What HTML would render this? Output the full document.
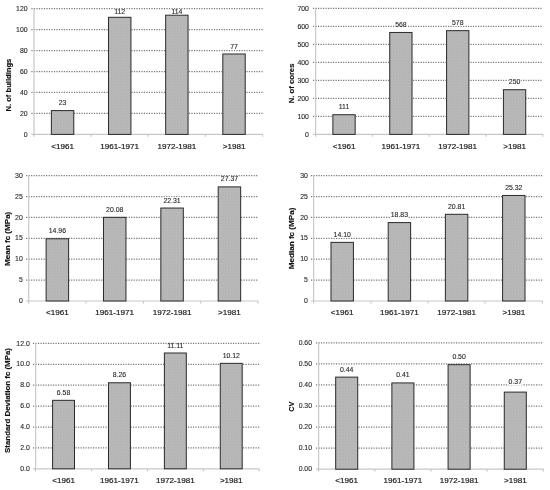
<!DOCTYPE html>
<html lang="en">
<head>
<meta charset="utf-8">
<title>Concrete strength statistics by construction period</title>
<style>
html,body{margin:0;padding:0;background:#fff;}
body{width:550px;height:490px;overflow:hidden;}
svg{display:block;}
text{font-family:"Liberation Sans", sans-serif;fill:#262626;stroke:#333;stroke-width:0.12px;}
.tk{font-size:6.9px;text-anchor:end;}
.ct{font-size:8.1px;text-anchor:middle;fill:#1c1c1c;stroke:#1c1c1c;stroke-width:0.2px;}
.vl{font-size:6.9px;text-anchor:middle;}
.tt{font-size:7.3px;font-weight:bold;text-anchor:middle;fill:#111;stroke:#111;stroke-width:0.15px;}
.g{stroke:#787878;stroke-width:1.25;stroke-dasharray:1.2 1.3;fill:none;}
.ax{stroke:#c8c8c8;stroke-width:1.2;fill:none;}
.b{fill:url(#hatch);stroke:#2a2a2a;stroke-width:1;}
</style>
</head>
<body>
<svg width="550" height="490" viewBox="0 0 550 490">
<defs>
<pattern id="hatch" width="1.5" height="1.5" patternUnits="userSpaceOnUse">
<rect width="1.5" height="1.5" fill="#b9b9b9"/>
<rect width="0.5" height="0.5" fill="#a4a4a4"/>
</pattern>
</defs>
<rect width="550" height="490" fill="#ffffff"/>

<g>
<line class="g" x1="31.40" y1="113.43" x2="262.60" y2="113.43"/>
<line class="g" x1="31.40" y1="92.47" x2="262.60" y2="92.47"/>
<line class="g" x1="31.40" y1="71.50" x2="262.60" y2="71.50"/>
<line class="g" x1="31.40" y1="50.53" x2="262.60" y2="50.53"/>
<line class="g" x1="31.40" y1="29.57" x2="262.60" y2="29.57"/>
<line class="g" x1="31.40" y1="8.60" x2="262.60" y2="8.60"/>
<path class="ax" d="M34.00 8.60V136.80"/>
<path class="ax" d="M31.40 134.40H262.60M91.15 134.40v2.4M148.30 134.40v2.4M205.45 134.40v2.4M262.60 134.40v2.4"/>
<rect class="b" x="51.37" y="110.59" width="22.40" height="23.81"/>
<rect fill="#fff" x="58.54" y="99.44" width="8.07" height="6.60"/>
<text class="vl" x="62.58" y="105.14">23</text>
<text class="ct" x="62.58" y="148.50">&lt;1961</text>
<rect class="b" x="108.52" y="17.29" width="22.40" height="117.11"/>
<rect fill="#fff" x="113.77" y="9.40" width="11.91" height="5.30"/>
<text class="vl" x="119.73" y="13.80">112</text>
<text class="ct" x="119.73" y="148.50">1961-1971</text>
<rect class="b" x="165.67" y="15.19" width="22.40" height="119.21"/>
<rect fill="#fff" x="170.92" y="9.40" width="11.91" height="4.79"/>
<text class="vl" x="176.88" y="13.80">114</text>
<text class="ct" x="176.88" y="148.50">1972-1981</text>
<rect class="b" x="222.82" y="53.98" width="22.40" height="80.42"/>
<rect fill="#fff" x="229.99" y="42.83" width="8.07" height="6.60"/>
<text class="vl" x="234.03" y="48.53">77</text>
<text class="ct" x="234.03" y="148.50">&gt;1981</text>
<text class="tk" x="27.55" y="136.55">0</text>
<text class="tk" x="27.55" y="115.58">20</text>
<text class="tk" x="27.55" y="94.62">40</text>
<text class="tk" x="27.55" y="73.65">60</text>
<text class="tk" x="27.55" y="52.68">80</text>
<text class="tk" x="27.55" y="31.72">100</text>
<text class="tk" x="27.55" y="10.75">120</text>
<text class="tt" transform="translate(11.40 85.10) rotate(-90)" x="0" y="0" textLength="52.9" lengthAdjust="spacingAndGlyphs">N. of buildings</text>
</g>
<g>
<line class="g" x1="313.00" y1="116.40" x2="543.00" y2="116.40"/>
<line class="g" x1="313.00" y1="98.40" x2="543.00" y2="98.40"/>
<line class="g" x1="313.00" y1="80.40" x2="543.00" y2="80.40"/>
<line class="g" x1="313.00" y1="62.40" x2="543.00" y2="62.40"/>
<line class="g" x1="313.00" y1="44.40" x2="543.00" y2="44.40"/>
<line class="g" x1="313.00" y1="26.40" x2="543.00" y2="26.40"/>
<line class="g" x1="313.00" y1="8.40" x2="543.00" y2="8.40"/>
<path class="ax" d="M315.60 8.40V136.80"/>
<path class="ax" d="M313.00 134.40H543.00M372.45 134.40v2.4M429.30 134.40v2.4M486.15 134.40v2.4M543.00 134.40v2.4"/>
<rect class="b" x="332.88" y="114.72" width="22.29" height="19.68"/>
<rect fill="#fff" x="338.07" y="103.57" width="11.91" height="6.60"/>
<text class="vl" x="344.03" y="109.27">111</text>
<text class="ct" x="344.03" y="148.50">&lt;1961</text>
<rect class="b" x="389.73" y="32.46" width="22.29" height="101.94"/>
<rect fill="#fff" x="394.92" y="21.31" width="11.91" height="6.60"/>
<text class="vl" x="400.88" y="27.01">568</text>
<text class="ct" x="400.88" y="148.50">1961-1971</text>
<rect class="b" x="446.58" y="30.66" width="22.29" height="103.74"/>
<rect fill="#fff" x="451.77" y="19.51" width="11.91" height="6.60"/>
<text class="vl" x="457.73" y="25.21">578</text>
<text class="ct" x="457.73" y="148.50">1972-1981</text>
<rect class="b" x="503.43" y="89.70" width="22.29" height="44.70"/>
<rect fill="#fff" x="508.62" y="78.55" width="11.91" height="6.60"/>
<text class="vl" x="514.58" y="84.25">250</text>
<text class="ct" x="514.58" y="148.50">&gt;1981</text>
<text class="tk" x="308.95" y="136.55">0</text>
<text class="tk" x="308.95" y="118.55">100</text>
<text class="tk" x="308.95" y="100.55">200</text>
<text class="tk" x="308.95" y="82.55">300</text>
<text class="tk" x="308.95" y="64.55">400</text>
<text class="tk" x="308.95" y="46.55">500</text>
<text class="tk" x="308.95" y="28.55">600</text>
<text class="tk" x="308.95" y="10.55">700</text>
<text class="tt" transform="translate(294.20 83.40) rotate(-90)" x="0" y="0" textLength="39.6" lengthAdjust="spacingAndGlyphs">N. of cores</text>
</g>
<g>
<line class="g" x1="26.10" y1="280.10" x2="258.10" y2="280.10"/>
<line class="g" x1="26.10" y1="259.20" x2="258.10" y2="259.20"/>
<line class="g" x1="26.10" y1="238.30" x2="258.10" y2="238.30"/>
<line class="g" x1="26.10" y1="217.40" x2="258.10" y2="217.40"/>
<line class="g" x1="26.10" y1="196.50" x2="258.10" y2="196.50"/>
<line class="g" x1="26.10" y1="175.60" x2="258.10" y2="175.60"/>
<path class="ax" d="M28.70 175.60V303.40"/>
<path class="ax" d="M26.10 301.00H258.10M86.05 301.00v2.4M143.40 301.00v2.4M200.75 301.00v2.4M258.10 301.00v2.4"/>
<rect class="b" x="46.13" y="238.77" width="22.48" height="62.23"/>
<rect fill="#fff" x="48.54" y="227.62" width="17.66" height="6.60"/>
<text class="vl" x="57.38" y="233.32">14.96</text>
<text class="ct" x="57.38" y="315.10">&lt;1961</text>
<rect class="b" x="103.48" y="217.37" width="22.48" height="83.63"/>
<rect fill="#fff" x="105.89" y="206.22" width="17.66" height="6.60"/>
<text class="vl" x="114.73" y="211.92">20.08</text>
<text class="ct" x="114.73" y="315.10">1961-1971</text>
<rect class="b" x="160.83" y="208.04" width="22.48" height="92.96"/>
<rect fill="#fff" x="163.24" y="196.89" width="17.66" height="6.60"/>
<text class="vl" x="172.08" y="202.59">22.31</text>
<text class="ct" x="172.08" y="315.10">1972-1981</text>
<rect class="b" x="218.18" y="186.89" width="22.48" height="114.11"/>
<rect fill="#fff" x="220.59" y="176.40" width="17.66" height="5.94"/>
<text class="vl" x="229.43" y="181.44">27.37</text>
<text class="ct" x="229.43" y="315.10">&gt;1981</text>
<text class="tk" x="22.75" y="303.15">0</text>
<text class="tk" x="22.75" y="282.25">5</text>
<text class="tk" x="22.75" y="261.35">10</text>
<text class="tk" x="22.75" y="240.45">15</text>
<text class="tk" x="22.75" y="219.55">20</text>
<text class="tk" x="22.75" y="198.65">25</text>
<text class="tk" x="22.75" y="177.75">30</text>
<text class="tt" transform="translate(9.60 238.80) rotate(-90)" x="0" y="0" textLength="54.2" lengthAdjust="spacingAndGlyphs">Mean fc (MPa)</text>
</g>
<g>
<line class="g" x1="311.00" y1="280.10" x2="542.40" y2="280.10"/>
<line class="g" x1="311.00" y1="259.20" x2="542.40" y2="259.20"/>
<line class="g" x1="311.00" y1="238.30" x2="542.40" y2="238.30"/>
<line class="g" x1="311.00" y1="217.40" x2="542.40" y2="217.40"/>
<line class="g" x1="311.00" y1="196.50" x2="542.40" y2="196.50"/>
<line class="g" x1="311.00" y1="175.60" x2="542.40" y2="175.60"/>
<path class="ax" d="M313.60 175.60V303.40"/>
<path class="ax" d="M311.00 301.00H542.40M370.80 301.00v2.4M428.00 301.00v2.4M485.20 301.00v2.4M542.40 301.00v2.4"/>
<rect class="b" x="330.99" y="242.36" width="22.42" height="58.64"/>
<rect fill="#fff" x="333.37" y="231.21" width="17.66" height="6.60"/>
<text class="vl" x="342.20" y="236.91">14.10</text>
<text class="ct" x="342.20" y="315.10">&lt;1961</text>
<rect class="b" x="388.19" y="222.59" width="22.42" height="78.41"/>
<rect fill="#fff" x="390.57" y="211.44" width="17.66" height="6.60"/>
<text class="vl" x="399.40" y="217.14">18.83</text>
<text class="ct" x="399.40" y="315.10">1961-1971</text>
<rect class="b" x="445.39" y="214.31" width="22.42" height="86.69"/>
<rect fill="#fff" x="447.77" y="203.16" width="17.66" height="6.60"/>
<text class="vl" x="456.60" y="208.86">20.81</text>
<text class="ct" x="456.60" y="315.10">1972-1981</text>
<rect class="b" x="502.59" y="195.46" width="22.42" height="105.54"/>
<rect fill="#fff" x="504.97" y="184.31" width="17.66" height="6.60"/>
<text class="vl" x="513.80" y="190.01">25.32</text>
<text class="ct" x="513.80" y="315.10">&gt;1981</text>
<text class="tk" x="307.85" y="303.15">0</text>
<text class="tk" x="307.85" y="282.25">5</text>
<text class="tk" x="307.85" y="261.35">10</text>
<text class="tk" x="307.85" y="240.45">15</text>
<text class="tk" x="307.85" y="219.55">20</text>
<text class="tk" x="307.85" y="198.65">25</text>
<text class="tk" x="307.85" y="177.75">30</text>
<text class="tt" transform="translate(294.30 238.40) rotate(-90)" x="0" y="0" textLength="61.5" lengthAdjust="spacingAndGlyphs">Median fc (MPa)</text>
</g>
<g>
<line class="g" x1="33.00" y1="447.90" x2="259.20" y2="447.90"/>
<line class="g" x1="33.00" y1="427.00" x2="259.20" y2="427.00"/>
<line class="g" x1="33.00" y1="406.10" x2="259.20" y2="406.10"/>
<line class="g" x1="33.00" y1="385.20" x2="259.20" y2="385.20"/>
<line class="g" x1="33.00" y1="364.30" x2="259.20" y2="364.30"/>
<line class="g" x1="33.00" y1="343.40" x2="259.20" y2="343.40"/>
<path class="ax" d="M35.60 343.40V471.20"/>
<path class="ax" d="M33.00 468.80H259.20M91.50 468.80v2.4M147.40 468.80v2.4M203.30 468.80v2.4M259.20 468.80v2.4"/>
<rect class="b" x="52.59" y="400.34" width="21.91" height="68.46"/>
<rect fill="#fff" x="56.64" y="389.19" width="13.83" height="6.60"/>
<text class="vl" x="63.55" y="394.89">6.58</text>
<text class="ct" x="63.55" y="482.90">&lt;1961</text>
<rect class="b" x="108.49" y="382.78" width="21.91" height="86.02"/>
<rect fill="#fff" x="112.54" y="371.63" width="13.83" height="6.60"/>
<text class="vl" x="119.45" y="377.33">8.26</text>
<text class="ct" x="119.45" y="482.90">1961-1971</text>
<rect class="b" x="164.39" y="353.00" width="21.91" height="115.80"/>
<rect fill="#fff" x="166.52" y="344.20" width="17.66" height="4.25"/>
<text class="vl" x="175.35" y="347.55">11.11</text>
<text class="ct" x="175.35" y="482.90">1972-1981</text>
<rect class="b" x="220.29" y="363.35" width="21.91" height="105.45"/>
<rect fill="#fff" x="222.42" y="352.20" width="17.66" height="6.60"/>
<text class="vl" x="231.25" y="357.90">10.12</text>
<text class="ct" x="231.25" y="482.90">&gt;1981</text>
<text class="tk" x="29.75" y="470.95">0.0</text>
<text class="tk" x="29.75" y="450.05">2.0</text>
<text class="tk" x="29.75" y="429.15">4.0</text>
<text class="tk" x="29.75" y="408.25">6.0</text>
<text class="tk" x="29.75" y="387.35">8.0</text>
<text class="tk" x="29.75" y="366.45">10.0</text>
<text class="tk" x="29.75" y="345.55">12.0</text>
<text class="tt" transform="translate(9.90 400.50) rotate(-90)" x="0" y="0" textLength="105.0" lengthAdjust="spacingAndGlyphs">Standard Deviation fc (MPa)</text>
</g>
<g>
<line class="g" x1="316.00" y1="448.13" x2="543.40" y2="448.13"/>
<line class="g" x1="316.00" y1="427.07" x2="543.40" y2="427.07"/>
<line class="g" x1="316.00" y1="406.00" x2="543.40" y2="406.00"/>
<line class="g" x1="316.00" y1="384.93" x2="543.40" y2="384.93"/>
<line class="g" x1="316.00" y1="363.87" x2="543.40" y2="363.87"/>
<line class="g" x1="316.00" y1="342.80" x2="543.40" y2="342.80"/>
<path class="ax" d="M318.60 342.80V471.60"/>
<path class="ax" d="M316.00 469.20H543.40M374.80 469.20v2.4M431.00 469.20v2.4M487.20 469.20v2.4M543.40 469.20v2.4"/>
<rect class="b" x="335.68" y="377.12" width="22.03" height="92.08"/>
<rect fill="#fff" x="339.79" y="365.97" width="13.83" height="6.60"/>
<text class="vl" x="346.70" y="371.67">0.44</text>
<text class="ct" x="346.70" y="483.30">&lt;1961</text>
<rect class="b" x="391.88" y="382.92" width="22.03" height="86.28"/>
<rect fill="#fff" x="395.99" y="371.77" width="13.83" height="6.60"/>
<text class="vl" x="402.90" y="377.47">0.41</text>
<text class="ct" x="402.90" y="483.30">1961-1971</text>
<rect class="b" x="448.08" y="364.69" width="22.03" height="104.51"/>
<rect fill="#fff" x="452.19" y="353.54" width="13.83" height="6.60"/>
<text class="vl" x="459.10" y="359.24">0.50</text>
<text class="ct" x="459.10" y="483.30">1972-1981</text>
<rect class="b" x="504.28" y="392.10" width="22.03" height="77.10"/>
<rect fill="#fff" x="508.39" y="378.70" width="13.83" height="6.60"/>
<text class="vl" x="515.30" y="384.40">0.37</text>
<text class="ct" x="515.30" y="483.30">&gt;1981</text>
<text class="tk" x="312.05" y="471.35">0.00</text>
<text class="tk" x="312.05" y="450.28">0.10</text>
<text class="tk" x="312.05" y="429.22">0.20</text>
<text class="tk" x="312.05" y="408.15">0.30</text>
<text class="tk" x="312.05" y="387.08">0.40</text>
<text class="tk" x="312.05" y="366.02">0.50</text>
<text class="tk" x="312.05" y="344.95">0.60</text>
<text class="tt" transform="translate(294.10 406.60) rotate(-90)" x="0" y="0" textLength="10.1" lengthAdjust="spacingAndGlyphs">CV</text>
</g>
</svg>
</body>
</html>
